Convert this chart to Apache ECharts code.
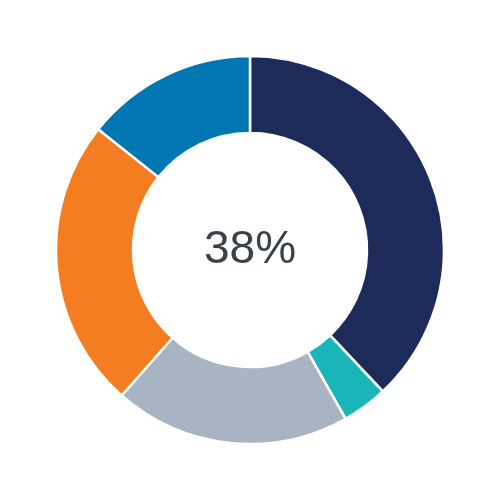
<!DOCTYPE html>
<html>
<head>
<meta charset="utf-8">
<script src="https://cdn.jsdelivr.net/npm/echarts@6/dist/echarts.min.js"></script>
<style>html,body{margin:0;padding:0;background:#fff}#c{width:500px;height:500px}</style>
</head>
<body>
<div id="c"></div>
<script>
var categories = ['A', 'B', 'C', 'D', 'E'];
var values = [38, 3.8, 19.7, 24.2, 14.3];
var colors = ['#1c2b5a', '#1ab5b8', '#a9b4c2', '#f37d20', '#0076b3'];
var centerLabel = '38%';

var chart = echarts.init(document.getElementById('c'));
chart.setOption({
  animation: false,
  title: {
    text: centerLabel,
    left: 'center',
    top: 'middle',
    textStyle: { fontFamily: 'Liberation Sans, Arial, sans-serif', fontSize: 46, fontWeight: 'normal', color: '#3b4148' }
  },
  series: [{
    type: 'pie',
    center: [250, 250],
    radius: [117, 194],
    startAngle: 90,
    clockwise: true,
    label: { show: false },
    labelLine: { show: false },
    silent: true,
    itemStyle: { borderColor: '#ffffff', borderWidth: 2.5 },
    data: categories.map(function (c, i) {
      return { name: c, value: values[i], itemStyle: { color: colors[i] } };
    })
  }]
});
</script>
</body>
</html>
